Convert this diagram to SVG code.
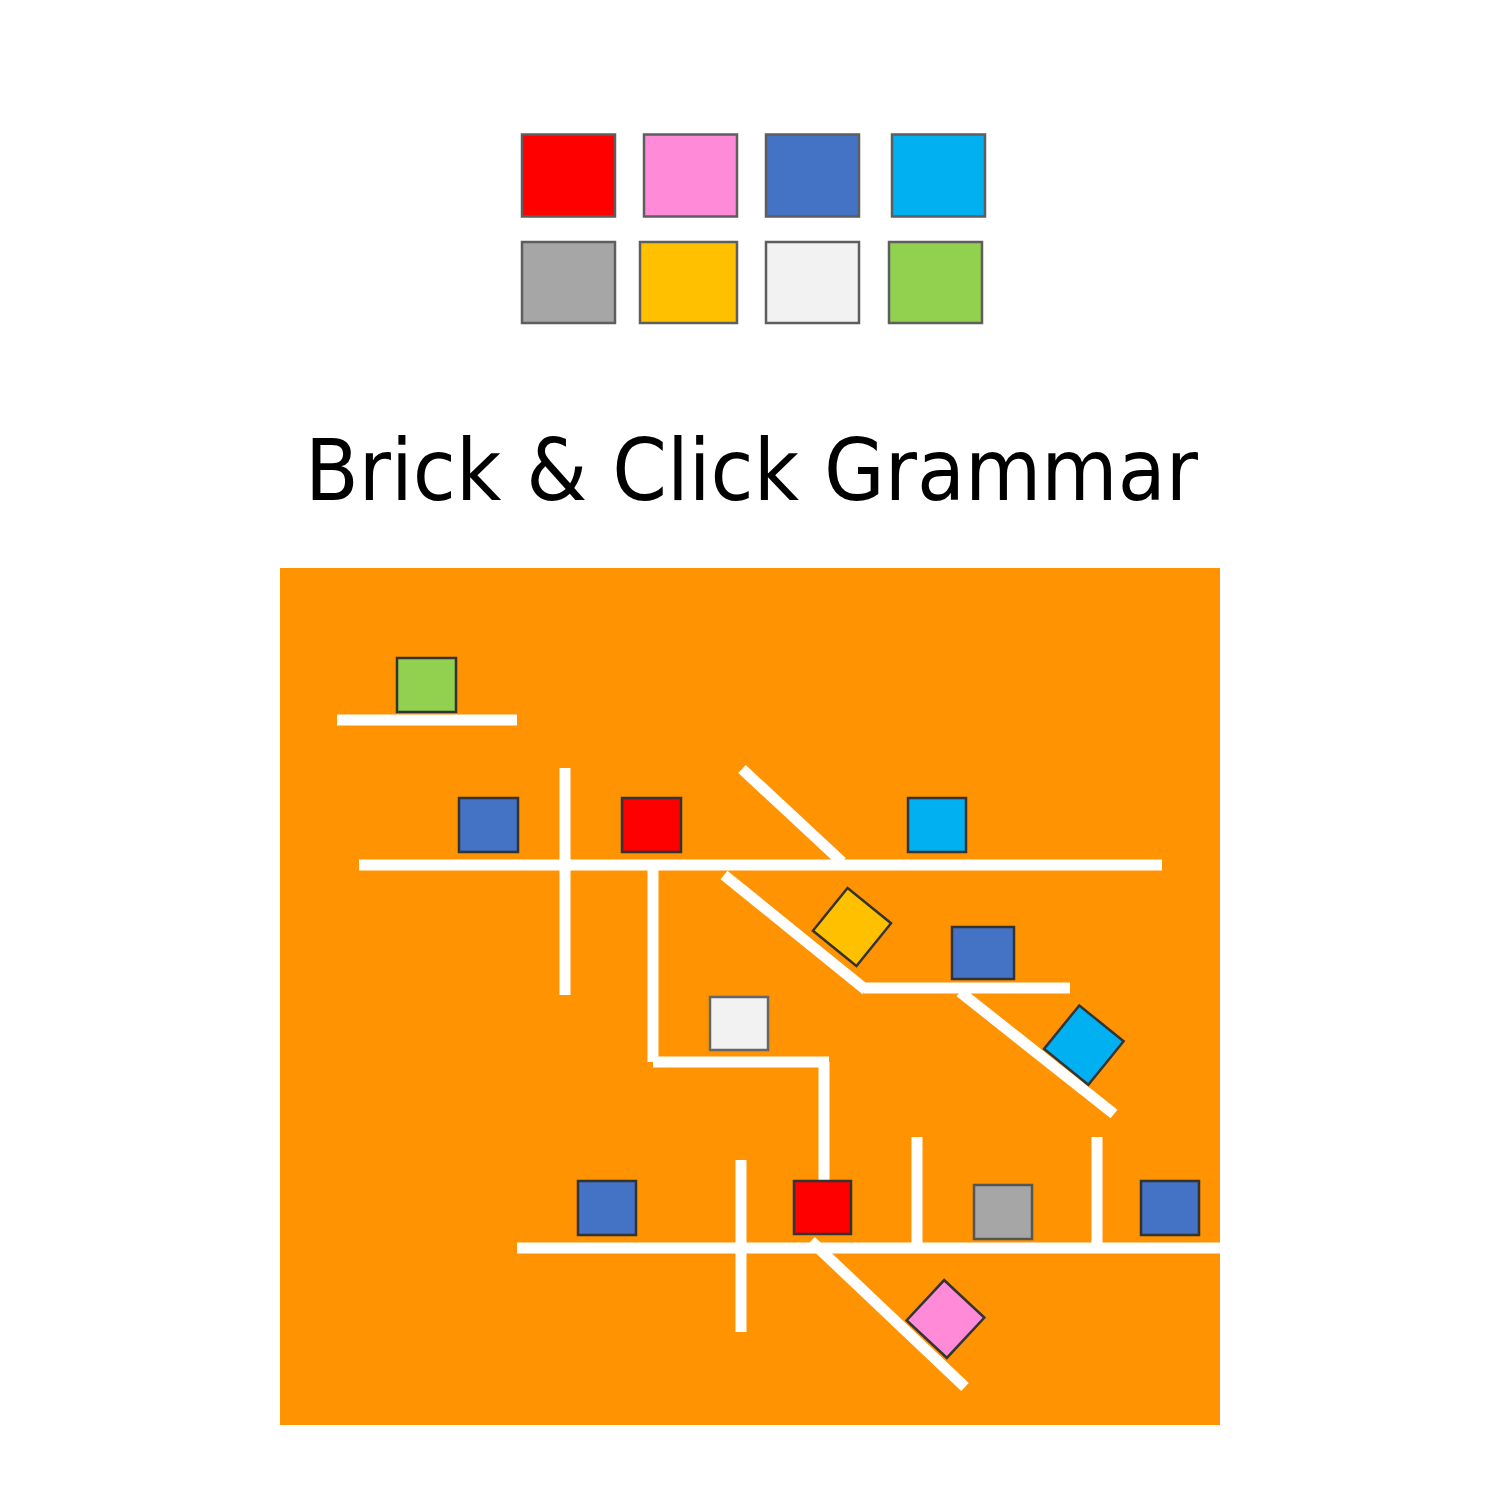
<svg xmlns="http://www.w3.org/2000/svg" width="1500" height="1500" viewBox="0 0 1500 1500">
<style>
.pal{stroke:#5e5e5e;stroke-width:2.5}
.brick{stroke:#333333;stroke-width:2.5}
.rail{stroke:#ffffff;stroke-width:11;fill:none;stroke-linecap:butt}
.title{font-family:"DejaVu Sans","Noto Sans",sans-serif;font-size:85px;fill:#000000}
</style>
<rect width="1500" height="1500" fill="#ffffff"/>
<g id="palette">
<rect id="pal-red" class="pal" x="522" y="134.5" width="93" height="82" fill="#FF0000"/>
<rect id="pal-pink" class="pal" x="644" y="134.5" width="93" height="82" fill="#FF8BD8"/>
<rect id="pal-blue" class="pal" x="766" y="134.5" width="93" height="82" fill="#4472C4"/>
<rect id="pal-cyan" class="pal" x="892" y="134.5" width="93" height="82" fill="#00B0F0"/>
<rect id="pal-gray" class="pal" x="522" y="242" width="93" height="81" fill="#A6A6A6"/>
<rect id="pal-yellow" class="pal" x="640" y="242" width="97" height="81" fill="#FFC000"/>
<rect id="pal-white" class="pal" x="766" y="242" width="93" height="81" fill="#F2F2F2"/>
<rect id="pal-green" class="pal" x="889" y="242" width="93" height="81" fill="#92D050"/>
</g>
<text id="title" class="title" x="305" y="500" textLength="893" lengthAdjust="spacingAndGlyphs">Brick &amp; Click Grammar</text>
<g id="board">
<rect x="280" y="568" width="940" height="857" fill="#FF9302"/>
<g id="rails">
<line class="rail" x1="337" y1="720" x2="517" y2="720"/>
<line class="rail" x1="359" y1="865" x2="1162" y2="865"/>
<line class="rail" x1="565" y1="768" x2="565" y2="995"/>
<line class="rail" x1="653" y1="870" x2="653" y2="1062"/>
<line class="rail" x1="742" y1="769" x2="842" y2="862"/>
<line class="rail" x1="724" y1="875" x2="866" y2="990"/>
<line class="rail" x1="864" y1="988" x2="1070" y2="988"/>
<line class="rail" x1="960" y1="992" x2="1114" y2="1114"/>
<line class="rail" x1="653" y1="1062" x2="829" y2="1062"/>
<line class="rail" x1="824" y1="1062" x2="824" y2="1182"/>
<line class="rail" x1="517" y1="1248" x2="1220" y2="1248"/>
<line class="rail" x1="741" y1="1160" x2="741" y2="1332"/>
<line class="rail" x1="917" y1="1137" x2="917" y2="1245"/>
<line class="rail" x1="1097" y1="1137" x2="1097" y2="1245"/>
<line class="rail" x1="811" y1="1241" x2="965" y2="1387"/>
</g>
<g id="bricks">
<rect id="b-green" class="brick" x="397" y="658" width="59" height="54" fill="#92D050"/>
<rect id="b-blue1" class="brick" x="459" y="798" width="59" height="54" fill="#4472C4"/>
<rect id="b-red1" class="brick" x="622" y="798" width="59" height="54" fill="#FF0000"/>
<rect id="b-cyan1" class="brick" x="908" y="798" width="58" height="54" fill="#00B0F0"/>
<rect id="b-yellow" class="brick" x="824" y="899.5" width="56" height="55" fill="#FFC000" transform="rotate(39 852 927)"/>
<rect id="b-blue2" class="brick" x="952" y="927" width="62" height="52" fill="#4472C4"/>
<rect id="b-cyan2" class="brick" x="1055" y="1017" width="57" height="56" fill="#00B0F0" transform="rotate(39 1083.5 1045.5)"/>
<rect id="b-white" class="brick" x="710" y="997" width="58" height="53" fill="#F2F2F2" style="stroke:#666666"/>
<rect id="b-blue3" class="brick" x="578" y="1181" width="58" height="54" fill="#4472C4"/>
<rect id="b-red2" class="brick" x="794" y="1181" width="57" height="53" fill="#FF0000"/>
<rect id="b-gray" class="brick" x="974" y="1185" width="58" height="54" fill="#A6A6A6" style="stroke:#555555"/>
<rect id="b-blue4" class="brick" x="1141" y="1181" width="58" height="54" fill="#4472C4"/>
<rect id="b-pink" class="brick" x="918" y="1291.5" width="55" height="55" fill="#FF8BD8" transform="rotate(43 945.5 1319)"/>
</g>
</g>
</svg>
